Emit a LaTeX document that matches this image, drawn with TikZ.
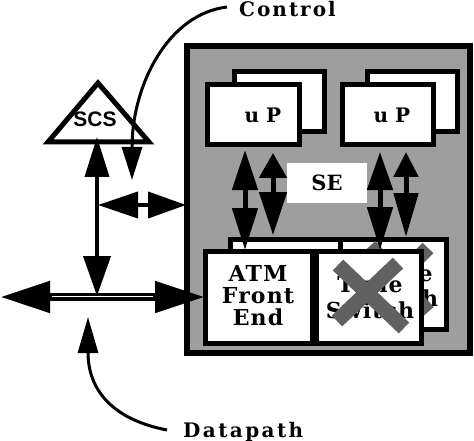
\documentclass[tikz,border=0pt]{standalone}
\usepackage{fontspec}
\setmainfont{DejaVu Serif}
\newfontfamily\scsfont{Liberation Sans}
\usetikzlibrary{arrows.meta}
\definecolor{stip}{gray}{0.62}
\definecolor{xgray}{gray}{0.38}
\begin{document}
\begin{tikzpicture}[x=1pt,y=-1pt,
  bigbox/.style={draw, line width=6pt, fill=stip, inner sep=0pt},
  box/.style={draw, line width=5pt, fill=white, inner sep=0pt},
  lbl/.style={font=\bfseries\fontsize{22}{22}\selectfont\addfontfeature{LetterSpace=5}, align=center, inner sep=0pt},
  caplbl/.style={inner sep=0pt, anchor=base west},
  xstroke/.style={draw=xgray, line width=15pt},
  thick arrow/.style={line width=5pt},
  thin curve/.style={line width=3pt}
]
\useasboundingbox (0,0) rectangle (474,441);

% big switching element box
\node[bigbox, minimum width=283pt, minimum height=307pt] (se) at (328.5,199.5) {};
\node[fill=white, minimum width=80pt, minimum height=40pt, inner sep=0pt,
      font=\bfseries\fontsize{21}{21}\selectfont] (selbl) at (327,183) {SE};

% microprocessors
\node[box, minimum width=90pt, minimum height=60pt] (upLb) at (279,102) {};
\node[box, minimum width=92pt, minimum height=60pt] (upLf) at (253,115) {};
\node[font=\bfseries\fontsize{20}{20}\selectfont, inner sep=0pt] (upLt) at (263,115) {u P};
\node[box, minimum width=90pt, minimum height=60pt] (upRb) at (412,102) {};
\node[box, minimum width=91pt, minimum height=60pt] (upRf) at (387.5,115) {};
\node[font=\bfseries\fontsize{20}{20}\selectfont, inner sep=0pt] (upRt) at (392,115) {u P};

% back boxes of the lower row
\node[box, minimum width=110pt, minimum height=62pt] (atmb) at (285,270) {};
\node[box, minimum width=106pt, minimum height=90pt] (swb) at (393,284) {};
\node[lbl, font=\bfseries\fontsize{22}{25}\selectfont\addfontfeature{LetterSpace=5}] (swbt) at (394,286) {Space\\Switch};
\coordinate (bx1) at (370,246);
\coordinate (bx2) at (428,312);
\coordinate (bx3) at (428,248);
\coordinate (bx4) at (362,315);
\draw[xstroke] (bx1) -- (bx2);
\draw[xstroke] (bx3) -- (bx4);

% front boxes of the lower row
\node[box, minimum width=107pt, minimum height=92pt] (atm) at (258.5,297) {};
\node[lbl] (atmt) at (258,296) {ATM\\Front\\End};
\node[box, minimum width=105pt, minimum height=92pt] (ts) at (368.5,297) {};
\node[lbl, font=\bfseries\fontsize{22}{26}\selectfont\addfontfeature{LetterSpace=5}] (tst) at (370,297) {Time\\Switch};
\coordinate (fx1) at (338,265);
\coordinate (fx2) at (404,328);
\coordinate (fx3) at (398,263);
\coordinate (fx4) at (337,321);
\draw[xstroke] (fx1) -- (fx2);
\draw[xstroke] (fx3) -- (fx4);

% arrows between microprocessors and lower boxes
\coordinate (a1) at (245,150); \coordinate (a2) at (245,250);
\coordinate (b1) at (273,153); \coordinate (b2) at (273,235);
\coordinate (c1) at (380,152); \coordinate (c2) at (380,250);
\coordinate (d1) at (406,152); \coordinate (d2) at (406,237);
\draw[thick arrow, {Triangle[length=40pt,width=25pt]}-{Triangle[length=42pt,width=25pt]}] (a1) -- (a2);
\draw[thick arrow, {Triangle[length=25pt,width=27pt]}-{Triangle[length=43pt,width=27pt]}] (b1) -- (b2);
\draw[thick arrow, {Triangle[length=38pt,width=25pt]}-{Triangle[length=43pt,width=25pt]}] (c1) -- (c2);
\draw[thick arrow, {Triangle[length=25pt,width=24pt]}-{Triangle[length=44pt,width=24pt]}] (d1) -- (d2);

% SCS triangle
\coordinate (tA) at (98,83);
\coordinate (tB) at (48,142);
\coordinate (tC) at (149,142);
\draw[line width=5pt, fill=white, line join=miter] (tA) -- (tB) -- (tC) -- cycle;
\node[font=\scsfont\bfseries\fontsize{21}{21}\selectfont, inner sep=0pt] (scs) at (95,119) {SCS};

% vertical control line and horizontal link to the SE
\coordinate (v1) at (97,137);
\coordinate (v2) at (97,296);
\draw[line width=4pt, {Triangle[length=40pt,width=24pt]}-{Triangle[length=40pt,width=27pt]}] (v1) -- (v2);
\coordinate (h1) at (98,205);
\coordinate (h2) at (186,205);
\draw[line width=4pt, {Triangle[length=40pt,width=26pt]}-{Triangle[length=38pt,width=26pt]}] (h1) -- (h2);

% datapath
\coordinate (dpL) at (0,297);
\coordinate (dpR) at (205,297);
\coordinate (dpL1) at (52,296.5);
\coordinate (dpR1) at (153,296.5);
\draw[line width=8pt, {Triangle[length=50pt,width=30pt]}-{Triangle[length=50pt,width=30pt]}] (dpL) -- (dpR);
\draw[white, line width=1.6pt] (dpL1) -- (dpR1);

% labels with curved pointers
\node[caplbl, font=\bfseries\fontsize{20}{22}\selectfont\addfontfeature{LetterSpace=10}] (ctl) at (239,17) {Control};
\coordinate (ctlS) at (227,7);
\coordinate (ctlE) at (132,180);
\draw[thin curve, -{Triangle[length=33pt,width=20pt]}] (ctlS) .. controls (168,14) and (132,85) .. (ctlE);

\node[caplbl, font=\bfseries\fontsize{20}{22}\selectfont\addfontfeature{LetterSpace=12}] (dp) at (183,437) {Datapath};
\coordinate (dpS) at (167,430);
\coordinate (dpE) at (88,317);
\draw[thin curve, -{Triangle[length=36pt,width=20pt]}] (dpS) .. controls (115,420) and (88,392) .. (dpE);
\end{tikzpicture}
\end{document}
